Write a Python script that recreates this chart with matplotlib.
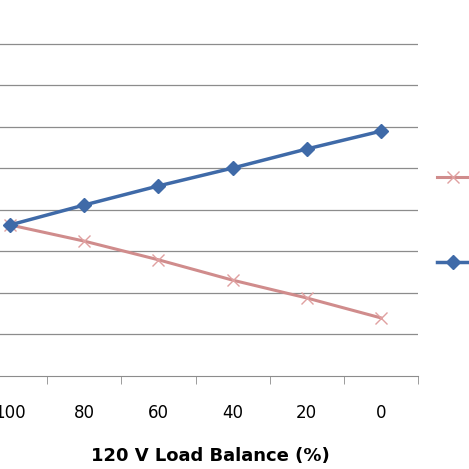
import matplotlib
matplotlib.use("Agg")
import matplotlib.pyplot as plt
from matplotlib.lines import Line2D

categories = ["100", "80", "60", "40", "20", "0"]
blue_vals = [3.64, 4.12, 4.58, 5.01, 5.47, 5.90]
pink_vals = [3.64, 3.25, 2.80, 2.31, 1.88, 1.40]

fig = plt.figure(figsize=(4.69, 4.69), dpi=100)
ax = fig.add_axes([-27/469, 93/469, 445/469, 376/469])
x = list(range(len(categories)))
for g in range(1, 9):
    ax.axhline(g, color="#8c8c8c", lw=0.9, zorder=0)
ax.plot(x, pink_vals, color="#d08c8c", lw=2.2, marker="x", ms=9, mew=1, mec="#e0a0a0", zorder=2)
ax.plot(x, blue_vals, color="#3f6aa8", lw=2.5, marker="D", ms=7, zorder=3)
ax.set_xlim(-0.5, 5.5)
ax.set_ylim(0, 9.06)
ax.set_xticks(x)
ax.set_xticklabels(categories, fontsize=12)
ax.set_xticks([i + 0.5 for i in range(-1, 6)], minor=True)
ax.tick_params(axis="x", which="major", length=0, pad=20)
ax.tick_params(axis="x", which="minor", length=6, color="#8c8c8c")
ax.set_yticks([])
for s in ["top", "right", "left"]:
    ax.spines[s].set_visible(False)
ax.spines["bottom"].set_color("#8c8c8c")
ax.set_xlabel("120 V Load Balance (%)", fontsize=13, fontweight="bold", labelpad=10)
ax.xaxis.set_label_coords((210+27)/445, -(447-376)/376)

fig.add_artist(Line2D([437/469, 1.0], [1-177/469]*2, color="#d08c8c", lw=2.2))
fig.add_artist(Line2D([453/469], [1-177/469], marker="x", ms=9, color="#e0a0a0", lw=0))
fig.add_artist(Line2D([437/469, 1.0], [1-262/469]*2, color="#3f6aa8", lw=2.5))
fig.add_artist(Line2D([453/469], [1-262/469], marker="D", ms=7, color="#3f6aa8", lw=0))
fig.savefig("out.png", dpi=100)
